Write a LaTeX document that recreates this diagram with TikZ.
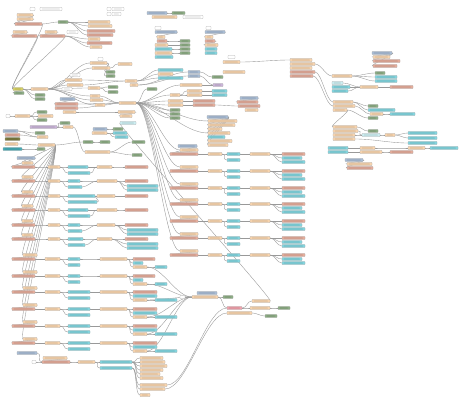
\documentclass[tikz,border=0pt]{standalone}
\usetikzlibrary{calc}
\pgfdeclarelayer{bg}
\pgfsetlayers{bg,main}
\definecolor{cP}{RGB}{248,212,174}
\definecolor{cS}{RGB}{228,172,154}
\definecolor{cC}{RGB}{130,212,222}
\definecolor{cG}{RGB}{140,172,132}
\definecolor{cB}{RGB}{168,188,212}
\definecolor{cY}{RGB}{214,208,100}
\definecolor{cV}{RGB}{202,180,216}
\definecolor{cO}{RGB}{122,122,64}
\definecolor{cK}{RGB}{240,162,172}
\definecolor{cT}{RGB}{70,170,180}
\definecolor{cL}{RGB}{205,238,242}
\tikzset{
 box/.style={draw=black!32,line width=0.3pt,rounded corners=0.7pt,inner sep=0pt,minimum height=3.4pt,
   path picture={\fill[black,opacity=0.2] ([xshift=1.6pt,yshift=-0.45pt]path picture bounding box.west) rectangle ([xshift=-2.2pt,yshift=0.45pt]path picture bounding box.east);}},
 plain/.style={draw=black!32,line width=0.3pt,rounded corners=0.7pt,inner sep=0pt,minimum height=3.4pt},
 wire/.style={draw=black!40,line width=0.38pt},
}
\newcommand\nd[5]{\node[box,fill=#2,minimum width={(#4)-(#3)}] (#1) at ({((#3)+(#4))/2},{#5}) {};}
\newcommand\tn[5]{\node[plain,fill=#2,minimum width={(#4)-(#3)}] (#1) at ({((#3)+(#4))/2},{#5}) {};}
\newcommand\w[2]{\draw[wire] let \p1=(#1.east),\p2=(#2.west),\n1={max(5pt,0.35*(\x2-\x1))} in (\p1) .. controls +(\n1,0pt) and +(-\n1,0pt) .. (\p2);}
\newcommand\ws[2]{\foreach \tg in {#2}{\w{#1}{\tg}}}
\begin{document}
\begin{tikzpicture}[x=1pt,y=-1pt]
\begin{pgfonlayer}{bg}
\fill[white] (0,0) rectangle (474,402);
\end{pgfonlayer}
\useasboundingbox (0,0) rectangle (474,402);
% ---------- region A (top left)
\tn{A1}{white}{30}{35}{9}
\nd{A2}{white}{40}{62}{9}
\tn{A3}{white}{107}{111}{9}
\nd{A4}{white}{112}{124}{9}
\tn{A5}{white}{107}{111}{14}
\nd{A6}{white}{112}{121}{14}
\nd{A7}{cP}{17}{33}{15}
\nd{A8}{cP}{17}{33}{19}
\nd{A9}{cS}{15}{42}{24}
\nd{A10}{cG}{58}{68}{22}
\nd{A11}{cP}{88}{110}{22}
\nd{A12}{cP}{88}{112}{26}
\nd{A13}{cS}{87}{115}{31}
\nd{A14}{cS}{87}{113}{35}
\nd{A15}{cP}{88}{100}{39}
\nd{A16}{cS}{87}{112}{43}
\nd{A17}{cP}{90}{102}{47}
\nd{A18}{cP}{13}{27}{32}
\nd{A19}{cS}{12}{37}{36}
\nd{A20}{cP}{45}{57}{32}
\nd{A21}{cS}{40}{65}{36}
\nd{A22}{white}{67}{78}{32}
% ---------- region B
\nd{Y}{cY}{13}{23}{89}
\nd{B1}{cG}{14}{24}{93}
\nd{B2}{cP}{31}{48}{89}
\nd{B3}{cG}{35}{45}{95}
\nd{B4}{cG}{35}{45}{99}
\nd{B5}{white}{62}{72}{89}
% ---------- region C
\tn{C0}{white}{98}{103}{59}
\nd{C1}{cP}{90}{107}{63}
\nd{C2}{cP}{92}{110}{68}
\nd{C3}{cG}{106}{115}{72}
\nd{C4}{cG}{106}{115}{76}
\nd{C5}{cP}{118}{132}{64}
\nd{C6}{white}{70}{80}{75}
\nd{C7}{cP}{65}{82}{80}
\nd{C8}{cP}{67}{83}{85}
\nd{C9}{cP}{88}{100}{88}
\nd{C10}{cG}{108}{118}{87}
\nd{C11}{cG}{108}{118}{92}
\nd{C12}{cP}{125}{137}{81}
\nd{C13}{cP}{130}{138}{85}
\nd{C14}{cP}{90}{100}{96}
\nd{C15}{cP}{90}{103}{100}
\nd{C16}{cP}{95}{105}{105}
\nd{C17}{cP}{119}{136}{103}
\nd{C18}{cP}{118}{135}{112}
\nd{C19}{cP}{120}{132}{116}
\nd{C20}{cL}{120}{136}{123}
\nd{C22}{cB}{60}{75}{99}
\nd{C23}{cS}{55}{78}{104}
\nd{C24}{cS}{55}{78}{108}
\nd{C25}{cP}{63}{76}{112}
\nd{C29}{cB}{93}{107}{129}
\nd{C30}{cP}{92}{107}{133}
\nd{C31}{cG}{113}{123}{129}
\nd{C32}{cC}{113}{127}{133}
\nd{C33}{cC}{115}{128}{137}
\tn{C34}{white}{6}{10}{116}
\nd{C35}{cP}{15}{30}{116}
\nd{C36}{cG}{37}{47}{112}
\nd{C37}{cP}{38}{53}{116}
\nd{C38}{cG}{37}{47}{120}
% ---------- region D
\nd{D1}{cV}{30}{57}{127}
\nd{D2}{cG}{60}{70}{123}
\nd{D3}{cP}{63}{73}{127}
\nd{D4}{cB}{3}{18}{131}
\nd{D5}{cS}{5}{20}{135}
\nd{D6}{cO}{5}{20}{139}
\nd{D7}{cP}{5}{18}{144}
\nd{D8}{cT}{3}{22}{149}
\nd{D9}{cG}{35}{45}{133}
\nd{D10}{cP}{37}{48}{137}
\nd{D11}{cP}{38}{55}{145}
\nd{D12}{cG}{37}{45}{149}
\nd{D13}{cG}{83}{93}{142}
\nd{D14}{cG}{100}{110}{142}
\nd{D15}{cP}{85}{110}{152}
\nd{D16}{cG}{132}{145}{142}
\nd{D17}{cG}{132}{142}{155}
% ---------- region G (top middle)
\nd{G1}{cB}{147}{167}{13}
\nd{G2}{cG}{172}{185}{13}
\nd{G3}{cP}{152}{177}{17}
\nd{G4}{white}{183}{203}{17}
\tn{G5}{white}{155}{161}{28}
\nd{G6}{cB}{155}{177}{32}
\nd{G7}{cP}{157}{165}{37}
\nd{G8}{cS}{157}{167}{41}
\nd{G9}{cP}{155}{168}{45}
\nd{G10}{cC}{155}{172}{49}
\nd{G11}{cP}{155}{172}{53}
\nd{G12}{cC}{155}{173}{57}
\nd{G13}{cG}{180}{190}{41}
\nd{G14}{cG}{180}{190}{45}
\nd{G15}{cG}{180}{190}{49}
\nd{G16}{cG}{180}{190}{53}
\tn{G17}{white}{206}{211}{28}
\nd{G18}{cB}{205}{225}{32}
\nd{G19}{cP}{205}{213}{37}
\nd{G20}{cS}{205}{215}{41}
\nd{G21}{cP}{205}{218}{45}
\nd{G22}{cC}{205}{217}{49}
\nd{G23}{cC}{205}{217}{53}
\tn{G24}{white}{228}{235}{57}
\nd{G25}{cP}{223}{240}{62}
\nd{G26}{cP}{223}{245}{72}
\nd{G27}{cC}{158}{183}{70}
\nd{G28}{cP}{158}{173}{74}
\nd{G29}{cC}{158}{183}{78}
\nd{G30}{cB}{188}{200}{72}
\nd{G31}{cB}{188}{200}{76}
\nd{G32}{cG}{212}{223}{77}
\nd{G33}{cV}{213}{223}{85}
\nd{G34}{cG}{147}{157}{89}
\nd{G35}{cP}{180}{202}{85}
\nd{G36}{cP}{170}{180}{95}
\nd{G37}{cP}{187}{202}{91}
\nd{G38}{cP}{187}{202}{95}
\nd{G39}{cC}{212}{227}{91}
\nd{G40}{cC}{212}{227}{95}
\nd{G41}{cP}{168}{183}{101}
\nd{G42}{cP}{168}{183}{105}
\nd{G43}{cS}{193}{215}{101}
\nd{G44}{cS}{193}{215}{105}
\nd{G45}{cG}{170}{180}{110}
\nd{G46}{cG}{170}{180}{114}
\nd{G47}{cG}{170}{180}{118}
\nd{G48}{cB}{240}{258}{98}
\nd{G49}{cS}{237}{258}{102}
\nd{G50}{cS}{238}{260}{106}
\nd{G51}{cP}{245}{258}{110}
% ---------- list N
\nd{N1}{cB}{207}{228}{117}
\nd{N2}{cP}{208}{237}{121}
\nd{N3}{cP}{208}{235}{125}
\nd{N4}{cP}{208}{222}{129}
\nd{N5}{cP}{208}{230}{133}
\nd{N6}{cC}{208}{225}{137}
\nd{N7}{cP}{208}{232}{141}
\nd{N8}{cP}{208}{228}{145}
% ---------- region R (right)
\nd{R1}{cP}{290}{312}{60}
\nd{R2}{cP}{290}{315}{64}
\nd{R3}{cP}{290}{312}{68}
\nd{R4}{cS}{290}{315}{72}
\nd{R5}{cS}{290}{313}{76}
\nd{R6}{cB}{372}{392}{53}
\nd{R7}{cP}{373}{390}{57}
\nd{R8}{cS}{373}{400}{61}
\nd{R9}{cS}{373}{397}{66}
\nd{R10}{cP}{332}{352}{76}
\nd{R11}{cG}{375}{385}{73}
\nd{R12}{cC}{375}{397}{77}
\nd{R13}{cC}{375}{397}{81}
\nd{R14}{cL}{332}{343}{83}
\nd{R15}{cC}{332}{350}{87}
\nd{R16}{cC}{332}{348}{91}
\nd{R17}{cP}{360}{378}{87}
\nd{R18}{cS}{390}{413}{87}
\nd{R19}{cP}{333}{353}{102}
\nd{R20}{cP}{333}{355}{106}
\nd{R21}{cP}{333}{347}{110}
\nd{R22}{cG}{368}{378}{106}
\nd{R23}{cC}{368}{395}{110}
\nd{R24}{cP}{370}{383}{114}
\nd{R25}{cC}{390}{415}{114}
\nd{R26}{cG}{368}{378}{118}
\nd{R27}{cP}{333}{357}{127}
\nd{R28}{cP}{333}{358}{131}
\nd{R29}{cP}{333}{355}{135}
\nd{R30}{cP}{333}{355}{139}
\nd{R31}{cG}{368}{378}{131}
\nd{R32}{cL}{362}{380}{135}
\nd{R33}{cP}{385}{395}{135}
\nd{R34}{cC}{408}{437}{133}
\nd{R35}{cC}{408}{437}{138}
\nd{R36}{cC}{408}{437}{143}
\nd{R37}{cP}{408}{425}{148}
\nd{R38}{cC}{430}{458}{148}
\nd{R39}{cC}{328}{348}{148}
\nd{R40}{cC}{328}{348}{152}
\nd{R41}{cP}{360}{375}{148}
\nd{R42}{cP}{360}{382}{152}
\nd{R43}{cS}{390}{413}{152}
\nd{R44}{cB}{345}{363}{160}
\nd{R45}{cP}{347}{372}{164}
\nd{R46}{cS}{347}{373}{168}
% ---------- left rows E
\nd{E0}{cB}{17}{35}{158}
\foreach \y/\cw/\pw/\ex [count=\i] in {167/88/112/0,181/80/117/1,196/95/115/0,210/88/117/0,225/80/115/1,239/83/112/1}{
 \nd{Ea\i}{cP}{22}{33}{\y-4}
 \nd{Eb\i}{cS}{12}{35}{\y}
 \nd{Ec\i}{cP}{48}{60}{\y}
 \nd{Ed\i}{cC}{68}{\cw}{\y}
 \nd{Ee\i}{cC}{68}{\cw+2}{\y+6}
 \nd{Ef\i}{cP}{97}{\pw}{\y}
 \nd{Eg\i}{cS}{125}{148}{\y}
 \ifnum\ex>0 \nd{Eh\i}{cC}{127}{158}{\y+5} \nd{Ei\i}{cC}{127}{158}{\y+9} \fi
}
% ---------- left rows F
\foreach \y/\cw/\sw/\ccw/\cew [count=\i] in {259/80/155/143/167,276/80/155/143/167,292/90/157/157/177,309/90/157/157/177,326/90/157/157/177,343/90/157/157/177}{
 \nd{Fa\i}{cP}{23}{37}{\y-4}
 \nd{Fb\i}{cS}{12}{35}{\y}
 \nd{Fc\i}{cP}{45}{60}{\y}
 \nd{Fd\i}{cC}{68}{\cw}{\y}
 \nd{Fe\i}{cC}{68}{\cw}{\y+6}
 \nd{Ff\i}{cP}{100}{127}{\y}
 \nd{Fg\i}{cS}{133}{\sw}{\y}
 \nd{Fh\i}{cC}{133}{\ccw}{\y+4}
 \nd{Fi\i}{cP}{133}{147}{\y+8}
 \nd{Fj\i}{cC}{155}{\cew}{\y+8}
}
% ---------- middle rows M
\nd{M0}{cB}{178}{197}{146}
\foreach \y [count=\i] in {154,171,188,204,221,238,255}{
 \nd{Ma\i}{cP}{180}{198}{\y-4}
 \nd{Mb\i}{cS}{170}{198}{\y}
 \nd{Mc\i}{cP}{208}{222}{\y}
 \nd{Md\i}{cC}{227}{240}{\y}
 \nd{Me\i}{cC}{227}{240}{\y+6}
 \nd{Mf\i}{cP}{250}{270}{\y}
 \nd{Mg\i}{cS}{282}{305}{\y}
 \nd{Mh\i}{cC}{282}{302}{\y+4}
 \nd{Mi\i}{cC}{282}{305}{\y+8}
}
% ---------- hub H
\tn{H0}{white}{180}{185}{297}
\nd{H1}{cB}{197}{217}{293}
\nd{H2}{cP}{192}{218}{297}
\nd{H3}{cG}{223}{233}{297}
\nd{H4}{cP}{252}{270}{301}
\nd{H5}{cK}{227}{242}{308}
\nd{H6}{cP}{250}{270}{308}
\nd{H7}{cG}{278}{290}{308}
\nd{H8}{cP}{227}{252}{313}
\nd{H9}{cG}{265}{277}{316}
% ---------- bottom K
\nd{K1}{cB}{17}{37}{353}
\tn{K0}{white}{32}{36}{362}
\nd{K2}{cP}{43}{67}{358}
\nd{K3}{cS}{42}{70}{362}
\nd{K4}{cP}{78}{95}{362}
\nd{K5}{cC}{100}{132}{362}
\nd{K6}{cC}{100}{132}{368}
\foreach \y/\r [count=\i] in {358/163,362/165,366/167,370/163,374/160,378/163,385/167,389/165,395/150}{
 \nd{L\i}{cP}{140}{\r}{\y}
}
% ================= wires
\begin{pgfonlayer}{bg}
\w{A7}{A9} \w{A8}{A9} \w{A9}{A10}
\ws{A10}{A11,A12,A13,A14}
\w{A18}{A19} \w{A20}{A21}
\ws{A21}{A15,A16,A17}
\w{A19}{Y} \w{A21}{Y} \w{A9}{Y}
\ws{Y}{B1,B2,B3,B4}
\ws{B2}{C1,C2,C7,C8,C9,C14,C15,C16}
\ws{C1}{C3,C4} \w{C2}{C5} \w{C7}{C12} \w{C8}{C12}
\ws{C9}{C10,C11}
\ws{C12}{G27,G28,G29}
\ws{C13}{G30,G31}
\ws{C17}{G34,G35,G36,G41,G42,G45,G46,G47}
\w{C14}{C17} \w{C15}{C17} \w{C16}{C17} \w{C23}{C17} \w{C24}{C17}
\w{C22}{C23} \w{C25}{C18} \w{C18}{C19}
\w{C34}{C35} \ws{C35}{C36,C37,C38}
\w{C29}{C31} \ws{C30}{C32,C33}
\ws{D1}{D2,D3} \ws{D4}{D9,D10} \w{D5}{D10} \w{D7}{D11} \w{D8}{D12}
\ws{D11}{D13} \ws{D15}{D16,D17} \w{D3}{D15} \w{D13}{D14}
\w{G1}{G2} \w{G6}{G7}
\w{G8}{G13} \w{G9}{G14} \w{G10}{G15} \w{G11}{G16}
\w{G18}{G19} \w{G20}{G21}
\w{G25}{R1}
\w{G30}{G32} \w{G31}{G33} \w{G35}{G33}
\ws{G36}{G37,G38} \w{G37}{G39} \w{G38}{G40}
\w{G41}{G43} \w{G42}{G44} \w{G48}{G49} \w{G44}{G50}
\ws{N1}{N2,N3,N4,N5,N6,N7,N8}
\ws{C17}{N2,N5}
\w{R2}{R10} \ws{R10}{R11,R12,R13}
\ws{R6}{R7,R8,R9}
\w{R14}{R17} \w{R15}{R17} \w{R16}{R17} \w{R17}{R18}
\w{R4}{R19} \w{R5}{R20} \ws{R19}{R22,R23} \w{R20}{R24} \w{R21}{R26} \w{R24}{R25}
\w{R21}{R27}
\w{R27}{R31} \w{R28}{R32} \w{R29}{R32} \w{R32}{R33} \ws{R33}{R34,R35} \w{R30}{R36}
\w{R39}{R41} \w{R40}{R42} \w{R42}{R43} \w{R41}{R37} \w{R37}{R38}
\ws{R44}{R45,R46}
\w{E0}{Eb1}
\foreach \i in {1,...,6}{
 \w{D11}{Ea\i} \w{Ea\i}{Eb\i} \w{Eb\i}{Ec\i} \w{Ec\i}{Ed\i} \w{Ec\i}{Ee\i} \w{Ed\i}{Ef\i} \w{Ee\i}{Ef\i} \w{Ef\i}{Eg\i}
}
\foreach \i in {2,5,6}{ \w{Ef\i}{Eh\i} \w{Ef\i}{Ei\i} }
\foreach \i in {1,...,6}{
 \w{D11}{Fa\i} \w{Fa\i}{Fb\i} \w{Fb\i}{Fc\i} \w{Fc\i}{Fd\i} \w{Fc\i}{Fe\i} \w{Fd\i}{Ff\i}
 \w{Ff\i}{Fg\i} \w{Ff\i}{Fh\i} \w{Ff\i}{Fi\i} \w{Fi\i}{Fj\i} \w{Fi\i}{H2}
}
\w{M0}{Mb1}
\foreach \i in {1,...,7}{
 \w{C17}{Ma\i} \w{Ma\i}{Mb\i} \w{Mb\i}{Mc\i} \w{Mc\i}{Md\i} \w{Mc\i}{Me\i} \w{Md\i}{Mf\i}
 \w{Mf\i}{Mg\i} \w{Mf\i}{Mh\i} \w{Mf\i}{Mi\i}
}
\w{H0}{H2} \w{H2}{H3} \w{H2}{H5} \w{H5}{H6} \w{H6}{H7} \w{H8}{H9} \w{H5}{H4}
\w{H4}{C20}
\w{K1}{K3} \w{K2}{K3} \w{K0}{K3} \w{K3}{K4} \ws{K4}{K5,K6}
\foreach \i in {1,...,6}{\w{K5}{L\i}}
\foreach \i in {7,8,9}{\w{K6}{L\i}}
\w{L7}{H5} \w{L8}{H8}
\end{pgfonlayer}
\end{tikzpicture}
\end{document}
